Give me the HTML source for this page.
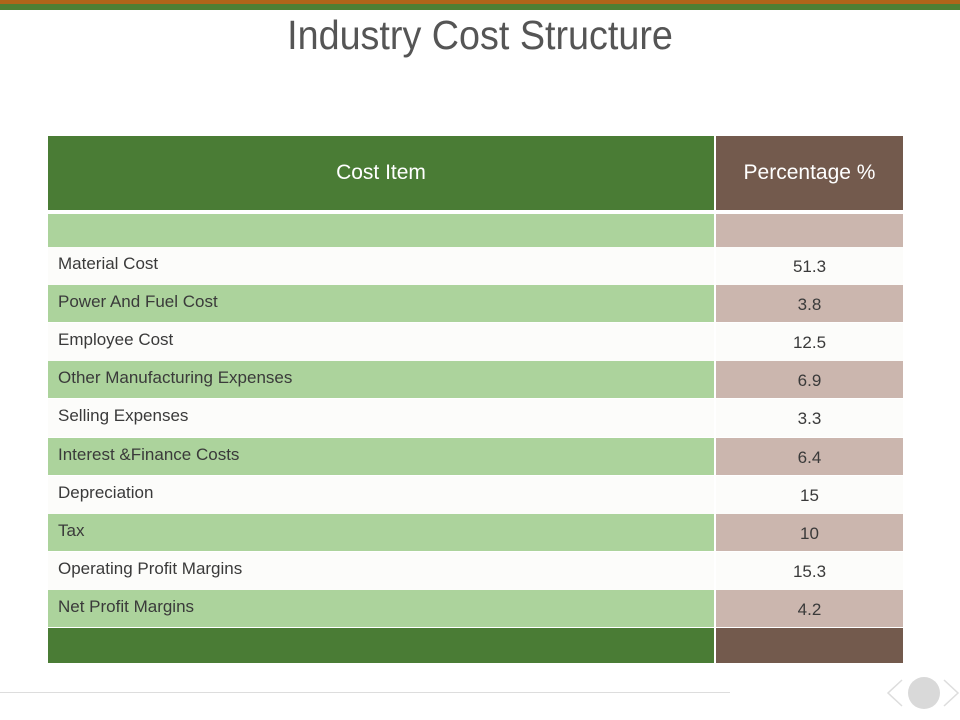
<!DOCTYPE html>
<html><head><meta charset="utf-8"><style>
body{margin:0;width:960px;height:720px;background:#fff;position:relative;overflow:hidden;font-family:"Liberation Sans",sans-serif}
.a{position:absolute}
.t{color:#3a3a3a;font-size:17px}
</style></head><body>
<div class="a" style="left:0;top:0;width:960px;height:4px;background:#b0651a"></div>
<div class="a" style="left:0;top:4px;width:960px;height:6px;background:#4f7f34"></div>
<div class="a" style="left:0;top:12px;width:960px;text-align:center;font-size:41px;color:#555;transform:scaleX(0.92);">Industry Cost Structure</div>
<div class="a" style="left:48px;top:136px;width:666px;height:74px;background:#4a7c35;color:#fff;font-size:21px;line-height:74px;text-align:center">Cost Item</div>
<div class="a" style="left:716px;top:136px;width:187px;height:74px;background:#735a4d;color:#fff;font-size:21px;line-height:74px;text-align:center">Percentage %</div>
<div class="a" style="left:48px;top:214px;width:666px;height:33px;background:#acd39c"></div>
<div class="a" style="left:716px;top:214px;width:187px;height:33px;background:#cbb6ae"></div>
<div id="rows"></div>
<div class="a" style="left:48px;top:628px;width:666px;height:35px;background:#4a7c35"></div>
<div class="a" style="left:716px;top:628px;width:187px;height:35px;background:#735a4d"></div>
<div class="a" style="left:0;top:692px;width:730px;height:1px;background:#ddd"></div>
<svg class="a" style="left:880px;top:670px" width="80" height="50">
<polyline points="22,10 8,23 22,36" fill="none" stroke="#ddd" stroke-width="1.5"/>
<circle cx="44" cy="23" r="16" fill="#d9d9d9"/>
<polyline points="64,10 78,23 64,36" fill="none" stroke="#ddd" stroke-width="1.5"/>
</svg>
<script>
const items=["Material Cost","Power And Fuel Cost","Employee Cost","Other Manufacturing Expenses","Selling Expenses","Interest &Finance Costs","Depreciation","Tax","Operating Profit Margins","Net Profit Margins"];
const values=["51.3","3.8","12.5","6.9","3.3","6.4","15","10","15.3","4.2"];
const c=document.getElementById('rows');
items.forEach((n,i)=>{
const top=247+i*38.1, alt=i%2==1;
const l=document.createElement('div');


l.className='a t';
l.style.cssText=`left:48px;top:${top}px;width:656px;height:${alt?37:38}px;padding-left:10px;line-height:34px;background:${alt?'#acd39c':'#fcfcfa'}`;
l.textContent=n;c.appendChild(l);
const r=document.createElement('div');


r.className='a t';
r.style.cssText=`left:716px;top:${top}px;width:187px;height:${alt?37:38}px;line-height:40px;text-align:center;background:${alt?'#cbb6ae':'#fcfcfa'}`;
r.textContent=values[i];c.appendChild(r);
});
</script>
</body></html>
